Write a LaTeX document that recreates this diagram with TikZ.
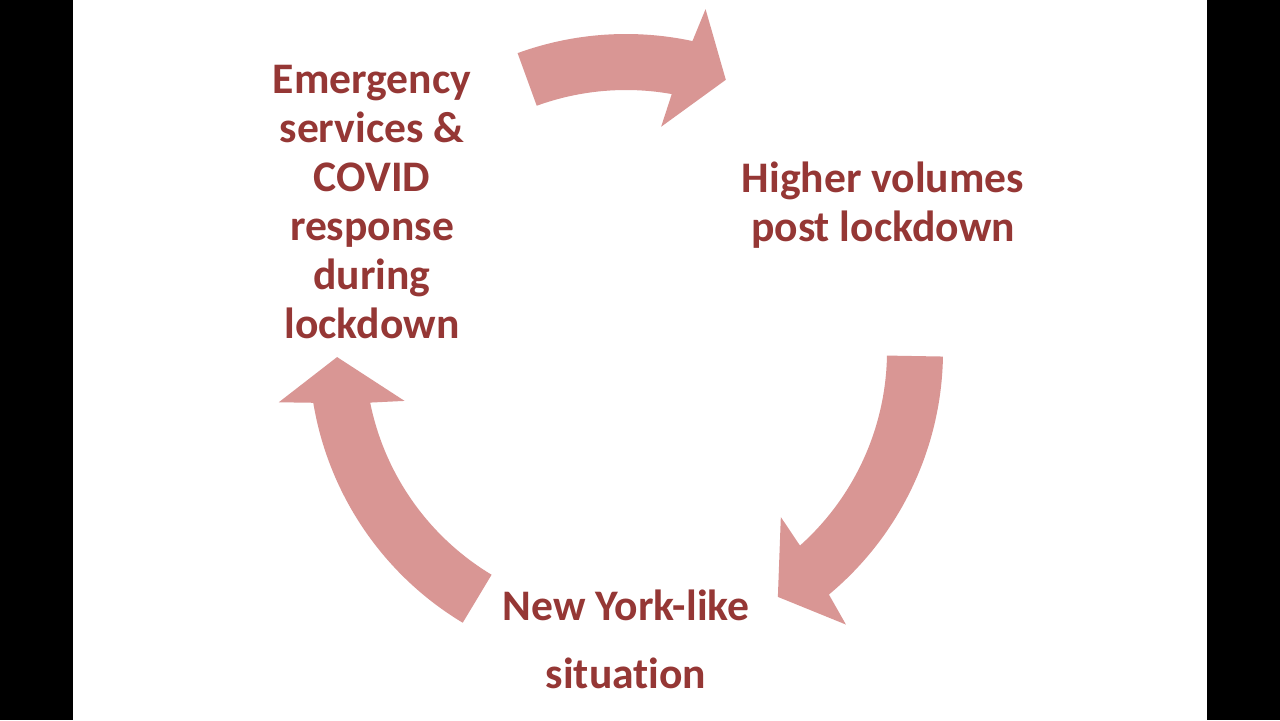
\documentclass[tikz,border=0pt]{standalone}
\usepackage{fontspec}
\setmainfont{Carlito}[Ligatures=NoCommon, Contextuals=NoAlternate]
\begin{document}
\begin{tikzpicture}[x=0.01cm, y=0.01cm, line join=miter]
  \definecolor{cyclepink}{RGB}{217,150,148}
  \definecolor{cyclered}{RGB}{149,55,53}
  \tikzset{
    cyclearrow/.style={fill=cyclepink},
    cycletext/.style={text=cyclered, font=\fontsize{12.4pt}{13.94pt}\selectfont\bfseries,
      align=center, inner sep=0pt}
  }
  \useasboundingbox (0,0) rectangle (1280,720);
  \fill[white] (0,0) rectangle (1280,720);
  \fill[black] (0,0) rectangle (73,720);
  \fill[black] (1207,0) rectangle (1280,720);
  \coordinate (C) at (626,369);
  % arrows of the cycle
  \begin{scope}[shift={(C)}]
    \fill[cyclearrow] (110:317) arc[start angle=110, end angle=77.9, radius=317]
      -- (76.9:351) -- (69.8:289) -- (81.1:227) -- (79.9:261)
      arc[start angle=79.9, end angle=110, radius=261] -- cycle;
    \fill[cyclearrow] (-1:317) arc[start angle=-1, end angle=-50.2, radius=317]
      -- (-51.2:351) -- (-58.3:289) -- (-47:227) -- (-48.2:261)
      arc[start angle=-48.2, end angle=-1, radius=261] -- cycle;
    \fill[cyclearrow] (239:317) arc[start angle=239, end angle=189.4, radius=317]
      -- (188.4:351) -- (181.2:289) -- (192.7:227) -- (191.4:261)
      arc[start angle=191.4, end angle=239, radius=261] -- cycle;
  \end{scope}
  % labels
  \node[cycletext] (emergency) at (372,518) {Emergency\\services \&\\COVID\\response\\during\\lockdown};
  \node[cycletext] (higher) at (883,515) {Higher volumes\\post lockdown};
  \node[cycletext] (newyork) at (626,81) {New York-like\\[0.19cm]situation};
\end{tikzpicture}
\end{document}
